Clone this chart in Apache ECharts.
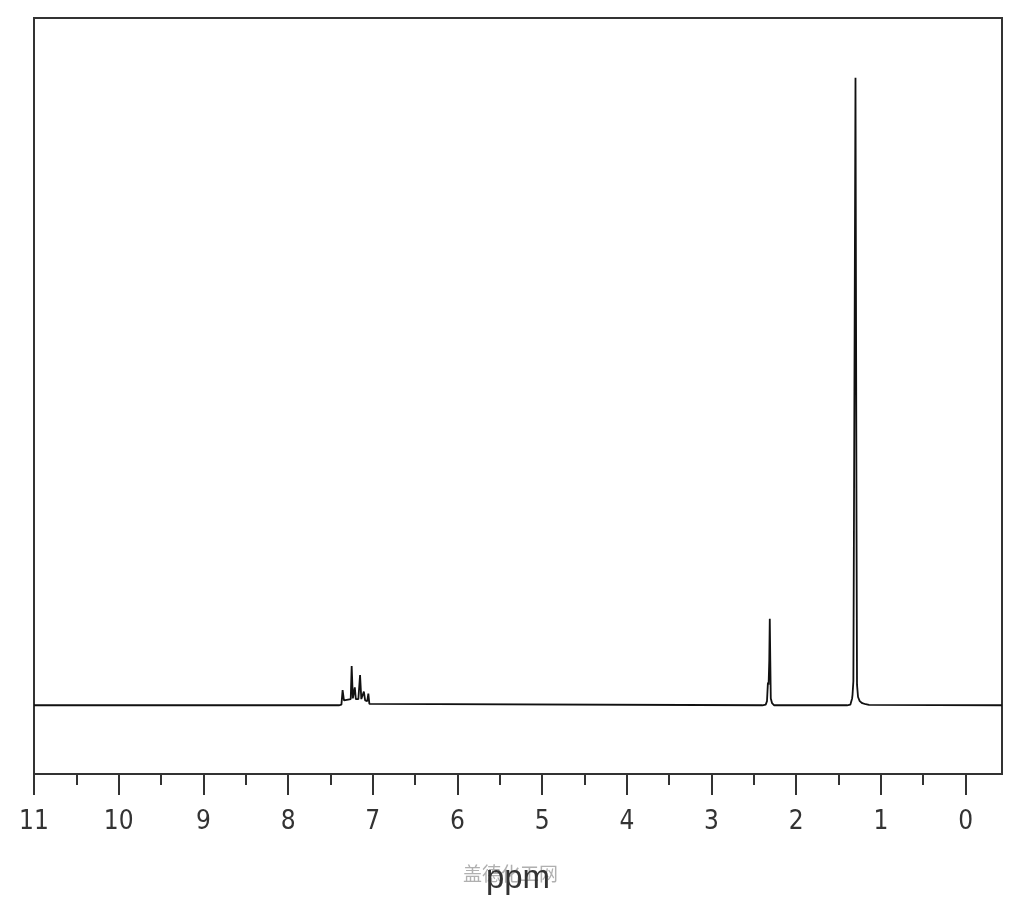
<!DOCTYPE html>
<html>
<head>
<meta charset="utf-8">
<script src="https://cdn.jsdelivr.net/npm/echarts@6/dist/echarts.min.js"></script>
<style>
  html, body { margin: 0; padding: 0; background: #fff; }
  #chart { width: 1024px; height: 900px; }
</style>
</head>
<body>
<div id="chart"></div>
<script>
// 化学位移 (ppm) 与对应强度，按峰分段手工读取
const ppmValues = [
  11, 7.40,
  7.37, 7.356, 7.34, 7.33, 7.26, 7.249, 7.235, 7.223, 7.212, 7.20,
  7.17, 7.15, 7.135, 7.12, 7.105, 7.09, 7.065, 7.052, 7.04, 7.02,
  2.40, 2.36, 2.345, 2.334, 2.326, 2.318, 2.312, 2.306, 2.30, 2.285, 2.26,
  1.40, 1.36, 1.34, 1.335, 1.325, 1.318, 1.300, 1.288, 1.282, 1.27, 1.25, 1.22, 1.18, 1.14, 1.12,
  -0.43
]
const intensityValues = [
  0, 0,
  0.1, 2.2, 0.7, 0.7, 0.9, 5.7, 1.0, 0.9, 2.6, 0.9,
  0.9, 4.4, 0.9, 0.9, 2.0, 0.7, 0.6, 1.7, 0.2, 0,
  0, 0.1, 0.6, 3.3, 3.0, 6.5, 12.6, 6.5, 1.0, 0.3, 0,
  0, 0.1, 1.0, 1.5, 3.5, 26.8, 91.3, 26.8, 3.0, 1.2, 0.6, 0.3, 0.15, 0.05, 0,
  0
]
const majorTicks = [0, 1, 2, 3, 4, 5, 6, 7, 8, 9, 10, 11]
const minorTicks = [0.5, 1.5, 2.5, 3.5, 4.5, 5.5, 6.5, 7.5, 8.5, 9.5, 10.5]

const X_MIN = -0.43
const X_MAX = 11
const labelFont = '"Liberation Sans Narrow", "DejaVu Sans Condensed", "Liberation Sans", sans-serif'

const chart = echarts.init(document.getElementById('chart'))

const option = {
  backgroundColor: '#fff',
  animation: false,
  grid: {
    left: 34, right: 22, top: 18, bottom: 123,
    show: true, borderColor: '#333', borderWidth: 2, backgroundColor: '#fff'
  },
  xAxis: [
    {
      type: 'value',
      inverse: true,
      min: X_MIN,
      max: X_MAX,
      position: 'bottom',
      name: 'ppm',
      nameLocation: 'middle',
      nameGap: 88,
      nameTextStyle: { fontFamily: '"Liberation Sans", sans-serif', fontSize: 33, color: '#333' },
      axisLine: { show: true, onZero: false, lineStyle: { color: '#333', width: 2 } },
      axisTick: { show: true, customValues: majorTicks, length: 21, lineStyle: { color: '#333', width: 2 } },
      axisLabel: {
        show: true, customValues: majorTicks, margin: 35,
        fontFamily: labelFont, fontSize: 26, color: '#333'
      },
      splitLine: { show: false }
    },
    {
      type: 'value',
      inverse: true,
      min: X_MIN,
      max: X_MAX,
      position: 'bottom',
      axisLine: { show: false, onZero: false },
      axisTick: { show: true, customValues: minorTicks, length: 11, lineStyle: { color: '#333', width: 2 } },
      axisLabel: { show: false },
      splitLine: { show: false }
    }
  ],
  yAxis: {
    type: 'value',
    min: -10,
    max: 100,
    show: false,
    splitLine: { show: false }
  },
  graphic: [
    {
      type: 'text',
      left: 463,
      top: 864,
      z: -1,
      style: { text: '盖德化工网', font: '19px "Noto Sans CJK SC", sans-serif', fill: '#b0b0b0' }
    }
  ],
  series: [
    {
      type: 'line',
      xAxisIndex: 0,
      data: ppmValues.map((p, i) => [p, intensityValues[i]]),
      showSymbol: false,
      smooth: false,
      lineStyle: { color: '#111', width: 1.8 },
      silent: true
    }
  ]
}

chart.setOption(option)
</script>
</body>
</html>
